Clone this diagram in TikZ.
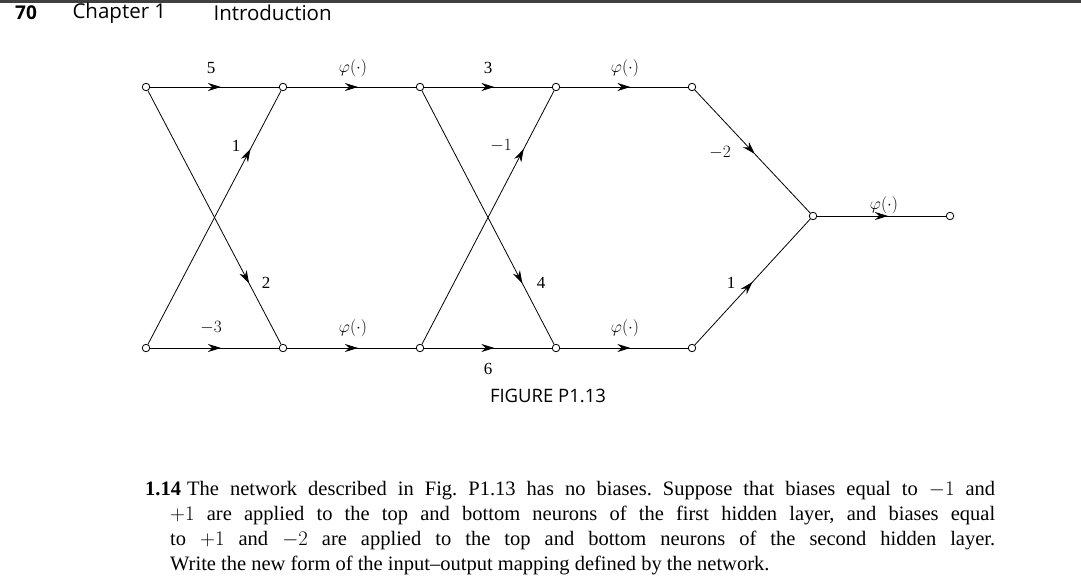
\documentclass[tikz,border=0pt]{standalone}
\usepackage{fontspec}
\setmainfont{Liberation Serif}
\newfontfamily\hdr{Open Sans}
\usetikzlibrary{decorations.markings,arrows.meta}
\frenchspacing
\begin{document}
\begin{tikzpicture}[x=1pt,y=-1pt,
  nd/.style={circle,draw,fill=white,inner sep=0pt,minimum size=7.5pt,line width=0.8pt},
  edge/.style={line width=0.8pt,postaction={decorate},decoration={markings,mark=at position #1 with {\arrow{Stealth[length=13pt,width=8pt]}}}},
  lab/.style={font=\fontsize{17}{17}\selectfont},
  txt/.style={anchor=base west,inner sep=0pt,font=\fontsize{20.5}{25}\selectfont}]
\useasboundingbox (0,0) rectangle (1081,585);
\fill[black!75] (0,0) rectangle (1081,3);
\node[font=\hdr\bfseries\fontsize{19}{19}\selectfont] at (26,13) {70};
\node[anchor=west,font=\hdr\fontsize{20.5}{20}\selectfont] at (69,13) {Chapter 1};
\node[anchor=west,font=\hdr\fontsize{20.5}{20}\selectfont] at (210,13) {Introduction};
% nodes
\node[nd] (a1) at (146,87) {};
\node[nd] (a2) at (146,348) {};
\node[nd] (b1) at (283,87) {};
\node[nd] (b2) at (283,348) {};
\node[nd] (c1) at (420,87) {};
\node[nd] (c2) at (420,348) {};
\node[nd] (d1) at (556,87) {};
\node[nd] (d2) at (556,348) {};
\node[nd] (e1) at (692,87) {};
\node[nd] (e2) at (692,348) {};
\node[nd] (f) at (813,216) {};
\node[nd] (g) at (950,216) {};
% edges
\draw[edge=0.55] (a1) -- (b1);
\draw[edge=0.55] (a2) -- (b2);
\draw[edge=0.76] (a1) -- (b2);
\draw[edge=0.77] (a2) -- (b1);
\draw[edge=0.55] (b1) -- (c1);
\draw[edge=0.55] (b2) -- (c2);
\draw[edge=0.55] (c1) -- (d1);
\draw[edge=0.55] (c2) -- (d2);
\draw[edge=0.76] (c1) -- (d2);
\draw[edge=0.77] (c2) -- (d1);
\draw[edge=0.55] (d1) -- (e1);
\draw[edge=0.55] (d2) -- (e2);
\draw[edge=0.52] (e1) -- (f);
\draw[edge=0.5] (e2) -- (f);
\draw[edge=0.55] (f) -- (g);
% labels
\node[lab] at (211,68) {5};
\node[lab] at (211,328) {$-3$};
\node[lab] at (236,146) {1};
\node[lab] at (266,283) {2};
\node[lab] at (353,68) {$\varphi(\cdot)$};
\node[lab] at (353,328) {$\varphi(\cdot)$};
\node[lab] at (488,68) {3};
\node[lab] at (488,369) {6};
\node[lab] at (501,146) {$-1$};
\node[lab] at (541,283) {4};
\node[lab] at (625,68) {$\varphi(\cdot)$};
\node[lab] at (625,328) {$\varphi(\cdot)$};
\node[lab] at (720,153) {$-2$};
\node[lab] at (731,283) {1};
\node[lab] at (884,205) {$\varphi(\cdot)$};
\node[font=\hdr\fontsize{18.5}{18}\selectfont] (cap) at (548,396) {FIGURE P1.13};
% paragraph
\node[txt] (l1) at (145,495) {\makebox[850pt][s]{\textbf{1.14}\hspace{6pt}The network described in Fig.~P1.13 has no biases. Suppose that biases equal to $-1$ and}};
\node[txt] (l2) at (170,520) {\makebox[825pt][s]{$+1$ are applied to the top and bottom neurons of the first hidden layer, and biases equal}};
\node[txt] (l3) at (170,545) {\makebox[825pt][s]{to $+1$ and $-2$ are applied to the top and bottom neurons of the second hidden layer.}};
\node[txt] (l4) at (170,570) {Write the new form of the input--output mapping defined by the network.};
\end{tikzpicture}
\end{document}
